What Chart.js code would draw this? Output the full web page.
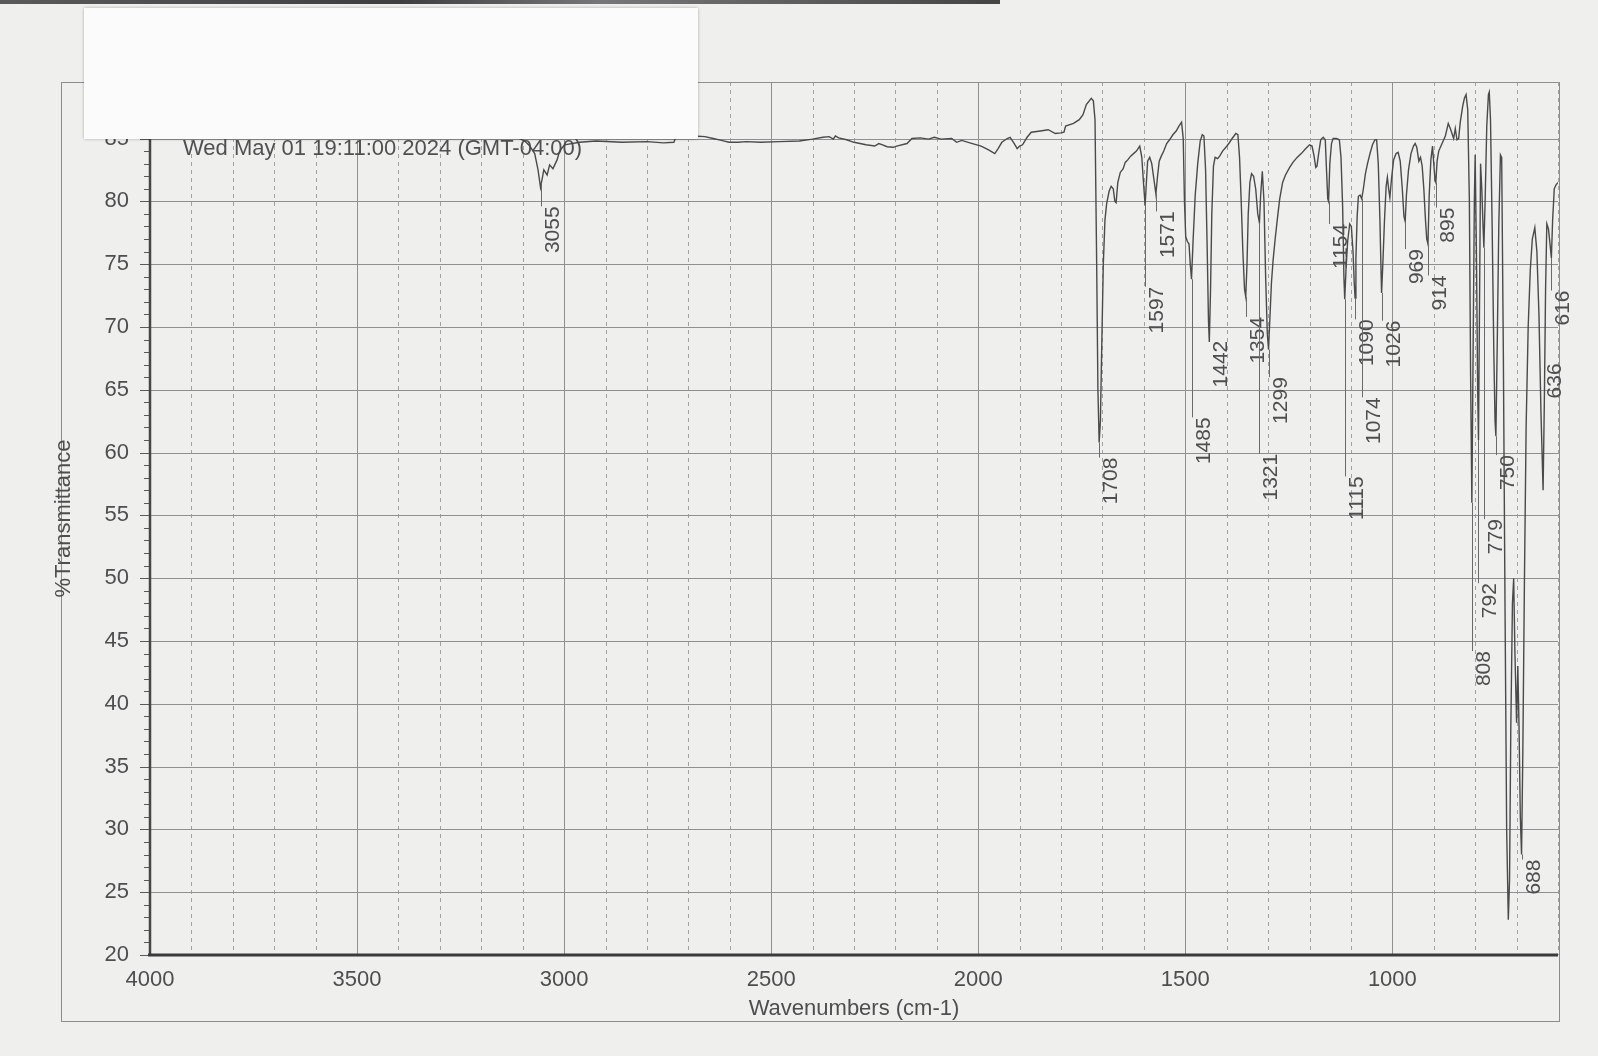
<!DOCTYPE html>
<html>
<head>
<meta charset="utf-8">
<script src="https://cdn.jsdelivr.net/npm/chart.js@4.4.1/dist/chart.umd.min.js"></script>
<style>
  html, body { margin: 0; padding: 0; }
  body { width: 1598px; height: 1056px; background: #efefee; position: relative; overflow: hidden; font-family: "Liberation Sans", Arial, sans-serif; }
  #topstrip { position: absolute; left: 0; top: 0; width: 1000px; height: 4px; background: linear-gradient(90deg, #5a5a5a, #3e3e3e 40%, #777 60%, #444); }
  #frame { position: absolute; left: 61px; top: 82px; width: 1499px; height: 940px; border: 1px solid #8c8c8c; box-sizing: border-box; }
  #spectrum { position: absolute; left: 0; top: 0; }
  #sticker { position: absolute; left: 84px; top: 8px; width: 614px; height: 131px; background: #fbfbfb; box-shadow: 0 0 3px rgba(0,0,0,0.28); }
</style>
</head>
<body>
<div id="topstrip"></div>
<div id="frame"></div>
<canvas id="spectrum" width="1598" height="1056"></canvas>
<div id="sticker"></div>
<script>
// --- Datos del espectro (cm-1, %T) ---
const wavenumbers = [
  4000, 3900, 3800, 3700, 3600, 3500, 3400, 3300, 3200, 3120,
  3095, 3083, 3071, 3063, 3057, 3049, 3041, 3035, 3027, 3017,
  3011, 2999, 2963, 2923, 2860, 2800, 2760, 2735, 2730, 2700,
  2687, 2660, 2640, 2620, 2602, 2580, 2560, 2526, 2480, 2432,
  2400, 2375, 2360, 2350, 2345, 2337, 2318, 2300, 2271, 2250,
  2240, 2231, 2220, 2205, 2197, 2172, 2160, 2140, 2120, 2106,
  2090, 2064, 2052, 2040, 2014, 1993, 1975, 1960, 1952, 1943,
  1930, 1923, 1913, 1906, 1900, 1893, 1882, 1872, 1850, 1831,
  1814, 1800, 1793, 1789, 1770, 1756, 1747, 1739, 1727, 1722,
  1718, 1714, 1711, 1708, 1705, 1702, 1698, 1694, 1690, 1684,
  1679, 1674, 1670, 1667, 1663, 1657, 1650, 1645, 1639, 1632,
  1625, 1618, 1610, 1605, 1601, 1597, 1594, 1591, 1586, 1581,
  1576, 1571, 1567, 1563, 1558, 1552, 1545, 1538, 1530, 1522,
  1515, 1509, 1505, 1502, 1499, 1495, 1491, 1488, 1485, 1481,
  1476, 1470, 1464, 1459, 1455, 1451, 1447, 1444, 1442, 1439,
  1436, 1432, 1428, 1422, 1417, 1410, 1402, 1395, 1387, 1378,
  1373, 1369, 1365, 1361, 1357, 1354, 1351, 1348, 1344, 1340,
  1335, 1330, 1325, 1321, 1318, 1314, 1310, 1306, 1302, 1299,
  1296, 1292, 1288, 1283, 1278, 1272, 1265, 1258, 1248, 1240,
  1230, 1220, 1209, 1200, 1194, 1189, 1185, 1182, 1178, 1173,
  1167, 1162, 1159, 1156, 1154, 1151, 1147, 1143, 1135, 1128,
  1124, 1120, 1117, 1115, 1112, 1108, 1103, 1099, 1095, 1092,
  1090, 1088, 1085, 1082, 1078, 1074, 1070, 1065, 1060, 1054,
  1048, 1042, 1038, 1034, 1030, 1027, 1026, 1023, 1019, 1015,
  1012, 1009, 1006, 1002, 997, 991, 986, 981, 976, 972,
  969, 966, 961, 955, 949, 945, 941, 936, 932, 928,
  924, 920, 917, 914, 911, 907, 903, 900, 897, 895,
  892, 888, 880, 872, 865, 860, 856, 852, 848, 844,
  840, 836, 830, 826, 822, 818, 814, 811, 808, 805,
  802, 800, 797, 794, 792, 789, 787, 784, 781, 779,
  776, 772, 768, 766, 763, 759, 755, 752, 750, 747,
  743, 739, 736, 732, 728, 724, 720, 717, 714, 710,
  707, 704, 700, 697, 694, 691, 688, 685, 681, 677,
  672, 667, 662, 656, 651, 646, 641, 636, 633, 630,
  627, 623, 619, 616, 613, 609, 605, 600
];

const transmittance = [
  86.3, 86.4, 86.2, 86.3, 86.2, 86.0, 85.9, 85.8, 85.6, 85.2,
  84.8, 84.4, 83.8, 82.5, 81.1, 82.5, 82.1, 82.9, 82.6, 83.3,
  84.0, 84.5, 84.7, 84.8, 84.7, 84.75, 84.65, 84.7, 85.1, 85.2,
  85.2, 85.15, 85.0, 84.85, 84.7, 84.7, 84.75, 84.7, 84.75, 84.8,
  84.95, 85.1, 85.15, 84.95, 85.2, 85.05, 84.9, 84.7, 84.5, 84.4,
  84.6, 84.5, 84.35, 84.3, 84.4, 84.6, 85.0, 85.05, 84.95, 85.1,
  84.95, 85.0, 84.7, 84.85, 84.6, 84.4, 84.1, 83.8, 84.2, 84.7,
  85.0, 85.1, 84.6, 84.2, 84.4, 84.5, 85.1, 85.5, 85.6, 85.7,
  85.4, 85.45, 85.5, 86.0, 86.2, 86.5, 86.9, 87.7, 88.2, 88.0,
  86.5, 75.0, 65.0, 60.8, 62.5, 68.0, 75.0, 78.5, 79.8, 80.8,
  81.2, 81.0, 80.0, 79.9, 81.5, 82.3, 82.6, 83.1, 83.3, 83.6,
  83.8, 84.0, 84.4, 83.5, 81.5, 79.7, 81.5, 83.2, 83.5, 83.0,
  81.8, 80.6, 82.0, 83.2, 83.6, 84.0, 84.6, 84.9, 85.3, 85.6,
  86.0, 86.3, 85.0, 80.0, 77.2, 76.8, 76.6, 75.0, 73.8, 77.0,
  80.5, 83.0, 84.8, 85.3, 85.2, 82.5, 76.0, 70.5, 68.8, 73.0,
  79.0, 82.8, 83.5, 83.4, 83.6, 84.0, 84.3, 84.6, 85.0, 85.4,
  85.3, 83.5, 80.0, 76.0, 73.0, 72.4, 75.0, 79.0, 81.5, 82.2,
  82.0, 81.0, 79.0, 78.3, 80.5, 82.4, 80.0, 74.0, 69.5, 68.2,
  70.5, 73.5, 75.3, 77.0, 78.5, 80.2, 81.5, 82.1, 82.7, 83.1,
  83.5, 83.8, 84.2, 84.5, 84.4, 83.6, 82.7, 82.8, 83.8, 84.9,
  85.1, 84.9, 82.5, 80.2, 80.0, 83.0, 84.6, 85.0, 85.0, 84.9,
  83.5, 79.5, 74.0, 72.2, 74.5, 76.8, 78.2, 78.0, 76.0, 73.5,
  72.3, 75.5, 78.8, 80.4, 80.5, 80.2, 81.0, 82.2, 83.0, 83.8,
  84.5, 84.9, 84.9, 83.0, 78.5, 74.0, 72.7, 75.0, 78.5, 81.2,
  81.9, 81.0, 80.3, 81.8, 83.3, 83.8, 83.9, 83.2, 81.0, 78.8,
  78.4, 80.5, 82.5, 83.8, 84.4, 84.6, 84.3, 83.2, 83.5, 82.8,
  81.0, 78.5, 77.0, 76.6, 80.5, 83.3, 84.4, 83.0, 81.7, 81.5,
  83.2, 84.0, 84.6, 85.2, 86.2, 85.8, 85.4, 85.0, 85.8, 84.9,
  85.0, 86.3, 87.6, 88.2, 88.5, 87.3, 80.0, 66.0, 56.0, 68.0,
  80.0, 83.7, 76.0, 65.0, 61.0, 74.0, 83.0, 81.0, 78.0, 76.3,
  80.0, 86.0, 88.5, 88.7, 86.5, 78.0, 68.0, 62.5, 61.3, 68.0,
  78.0, 83.7, 83.5, 68.0, 48.0, 30.0, 22.8, 26.0, 38.0, 48.0,
  50.0, 44.0, 38.5, 43.0, 38.0, 31.0, 28.0, 36.0, 50.0, 62.0,
  70.0, 74.5, 77.0, 77.9, 76.0, 71.0, 63.0, 57.0, 64.0, 73.0,
  78.2, 77.8, 76.5, 75.5, 78.5, 81.0, 81.3, 81.5
];

// Picos marcados y nivel (%T) donde termina la línea guía / empieza la etiqueta
const peakWavenumbers = [3055, 1708, 1597, 1571, 1485, 1442, 1354, 1321, 1299, 1154, 1115, 1090,
                         1074, 1026, 969, 914, 895, 808, 792, 779, 750, 688, 636, 616];
const peakLabelLevels = [79.6, 59.6, 73.2, 79.2, 62.8, 68.9, 70.8, 59.9, 66.0, 78.2, 58.1, 70.6,
                         64.4, 70.5, 76.2, 74.1, 79.5, 44.2, 49.6, 54.7, 59.8, 27.6, 67.1, 72.9];

const xTickValues = [4000, 3500, 3000, 2500, 2000, 1500, 1000];
const yTickValues = [20, 25, 30, 35, 40, 45, 50, 55, 60, 65, 70, 75, 80, 85];
const stampText = "Wed May 01 19:11:00 2024 (GMT-04:00)";

const FONT = '"Liberation Sans", Arial, sans-serif';
const TEXT = '#4e4e4e';

function valueAt(wn) {
  for (let i = 0; i < wavenumbers.length - 1; i++) {
    const a = wavenumbers[i], b = wavenumbers[i + 1];
    if (wn <= a && wn >= b) {
      const t = (a - wn) / (a - b);
      return transmittance[i] + t * (transmittance[i + 1] - transmittance[i]);
    }
  }
  return transmittance[transmittance.length - 1];
}

// --- Rejilla, ejes y etiquetas de picos ---
const spectrumDecor = {
  id: 'spectrumDecor',
  beforeDatasetsDraw(chart) {
    const { ctx, chartArea: a, scales: { x, y } } = chart;
    ctx.save();
    ctx.lineWidth = 1;
    for (let w = 600; w <= 4000; w += 100) {
      const px = Math.round(x.getPixelForValue(w)) + 0.5;
      if (w % 500 === 0) { ctx.strokeStyle = '#8f8f8f'; ctx.setLineDash([]); }
      else { ctx.strokeStyle = '#a2a2a2'; ctx.setLineDash([4, 4]); }
      ctx.beginPath(); ctx.moveTo(px, a.top); ctx.lineTo(px, a.bottom); ctx.stroke();
    }
    ctx.setLineDash([]);
    ctx.strokeStyle = '#8f8f8f';
    yTickValues.forEach(v => {
      if (v === 20) return;
      const py = Math.round(y.getPixelForValue(v)) + 0.5;
      ctx.beginPath(); ctx.moveTo(a.left, py); ctx.lineTo(a.right, py); ctx.stroke();
    });
    ctx.beginPath(); ctx.moveTo(a.left, a.top + 0.5); ctx.lineTo(a.right, a.top + 0.5); ctx.stroke();

    ctx.fillStyle = '#505050';
    ctx.font = '22px ' + FONT;
    ctx.textBaseline = 'middle';
    ctx.fillText(stampText, a.left + 33, y.getPixelForValue(84.2));
    ctx.restore();
  },
  afterDatasetsDraw(chart) {
    const { ctx, chartArea: a, scales: { x, y } } = chart;
    ctx.save();
    // marcas menores del eje Y
    ctx.strokeStyle = '#5a5a5a';
    ctx.lineWidth = 1;
    for (let v = 20; v <= 89; v++) {
      const py = Math.round(y.getPixelForValue(v)) + 0.5;
      const len = v % 5 === 0 ? 10 : 6;
      ctx.beginPath(); ctx.moveTo(a.left - len, py); ctx.lineTo(a.left, py); ctx.stroke();
    }
    // ejes
    ctx.strokeStyle = '#464646';
    ctx.lineWidth = 2.5;
    ctx.beginPath(); ctx.moveTo(a.left, a.top); ctx.lineTo(a.left, a.bottom); ctx.stroke();
    ctx.strokeStyle = '#3b3b3b';
    ctx.lineWidth = 3;
    ctx.beginPath(); ctx.moveTo(a.left - 2, a.bottom); ctx.lineTo(a.right, a.bottom); ctx.stroke();

    // etiquetas de picos
    ctx.font = '21px ' + FONT;
    ctx.fillStyle = TEXT;
    ctx.strokeStyle = '#6a6a6a';
    ctx.lineWidth = 1;
    peakWavenumbers.forEach((wn, i) => {
      const px = Math.round(x.getPixelForValue(wn)) + 0.5;
      const pMin = y.getPixelForValue(valueAt(wn));
      const pLab = y.getPixelForValue(peakLabelLevels[i]);
      if (pLab > pMin + 2) {
        ctx.beginPath(); ctx.moveTo(px, pMin); ctx.lineTo(px, pLab); ctx.stroke();
      }
      ctx.save();
      ctx.translate(px + 12, pLab);
      ctx.rotate(-Math.PI / 2);
      ctx.textAlign = 'right';
      ctx.textBaseline = 'middle';
      ctx.fillText(String(wn), 0, 0);
      ctx.restore();
    });
    ctx.restore();
  }
};

Chart.defaults.font.family = FONT;
Chart.defaults.color = TEXT;

new Chart(document.getElementById('spectrum'), {
  type: 'line',
  data: {
    datasets: [{
      data: wavenumbers.map((w, i) => ({ x: w, y: transmittance[i] })),
      borderColor: '#4a4a4a',
      borderWidth: 1.4,
      pointRadius: 0,
      fill: false,
      tension: 0
    }]
  },
  options: {
    responsive: false,
    animation: false,
    devicePixelRatio: 1,
    layout: { padding: { left: 40, top: 82, right: 40, bottom: 34 } },
    plugins: { legend: { display: false }, tooltip: { enabled: false } },
    scales: {
      x: {
        type: 'linear',
        reverse: true,
        min: 600,
        max: 4000,
        afterBuildTicks: s => { s.ticks = xTickValues.map(v => ({ value: v })); },
        afterFit: s => { s.height = 67; },
        grid: { display: false },
        border: { display: false },
        ticks: { font: { size: 22 }, color: TEXT, padding: 4, maxRotation: 0, autoSkip: false, callback: v => String(v) },
        title: { display: true, text: 'Wavenumbers (cm-1)', font: { size: 22 }, color: TEXT, padding: 0 }
      },
      y: {
        type: 'linear',
        min: 20,
        max: 89.5,
        afterBuildTicks: s => { s.ticks = yTickValues.map(v => ({ value: v })); },
        afterFit: s => { s.width = 110; },
        grid: { display: false },
        border: { display: false },
        ticks: { font: { size: 22 }, color: TEXT, padding: 13, callback: v => String(v) },
        title: { display: true, text: '%Transmittance', font: { size: 22 }, color: TEXT, padding: { top: 11, bottom: 0 } }
      }
    }
  },
  plugins: [spectrumDecor]
});
</script>
</body>
</html>
